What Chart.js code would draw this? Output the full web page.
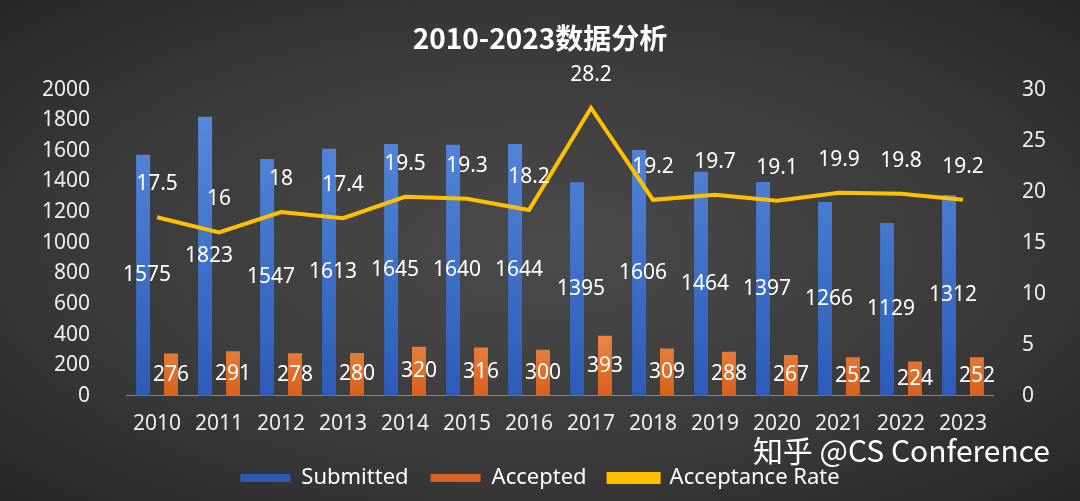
<!DOCTYPE html>
<html><head><meta charset="utf-8">
<script src="https://cdn.jsdelivr.net/npm/chart.js@4"></script>
<style>
html,body{margin:0;padding:0}
body{width:1080px;height:501px;background:radial-gradient(ellipse at center,#4a4a4a 0%,#3a3a3a 60%,#262626 100%);position:relative;overflow:hidden;font-family:"Noto Sans CJK SC","Noto Sans",sans-serif}
#wrap{position:absolute;left:0;top:0;width:1080px;height:501px}
#wm{position:absolute;right:30px;bottom:30px;color:#fff;font-size:30px;font-family:"Noto Sans CJK SC",sans-serif}
</style></head>
<body>
<div id="wrap"><canvas id="myChart"></canvas></div>
<div id="wm">知乎 @CS Conference</div>
<script>
const years = ["2010","2011","2012","2013","2014","2015","2016","2017","2018","2019","2020","2021","2022","2023"];
const submitted = [1575,1823,1547,1613,1645,1640,1644,1395,1606,1464,1397,1266,1129,1312];
const accepted = [276,291,278,280,320,316,300,393,309,288,267,252,224,252];
const rate = [17.5,16,18,17.4,19.5,19.3,18.2,28.2,19.2,19.7,19.1,19.9,19.8,19.2];

// simple inline data labels
const labelPlugin = {
  id: "labels",
  afterDatasetsDraw(chart) {
    const ctx = chart.ctx;
    ctx.save();
    ctx.font = "21px 'Noto Sans', sans-serif";
    ctx.fillStyle = "#fff";
    ctx.textAlign = "center";
    ctx.textBaseline = "middle";
    chart.data.datasets.forEach((ds, i) => {
      const meta = chart.getDatasetMeta(i);
      meta.data.forEach((el, j) => {
        const v = ds.data[j];
        if (ds.type === "line") {
          ctx.fillText(v, el.x, el.y - 33);
        } else {
          ctx.fillText(v, el.x + (i === 1 ? 4 : 0), (el.y + el.base) / 2);
        }
      });
    });
    ctx.restore();
  }
};

const c = document.getElementById("myChart").getContext("2d");
const blueGrad = c.createLinearGradient(0, 80, 0, 393);
blueGrad.addColorStop(0, "#5b8fe0");
blueGrad.addColorStop(1, "#2c5cb8");
const orangeGrad = c.createLinearGradient(0, 300, 0, 393);
orangeGrad.addColorStop(0, "#f79a5a");
orangeGrad.addColorStop(1, "#d8621e");

Chart.defaults.color = "#ddd";
Chart.defaults.font.family = "'Noto Sans', sans-serif";

new Chart("myChart", {
  data: {
    labels: years,
    datasets: [
      { type: "line", label: "Acceptance Rate", data: rate, yAxisID: "y1", borderColor: "#FFC000", backgroundColor: "#FFC000", borderWidth: 4, pointRadius: 0, tension: 0, order: 0 },
      { type: "bar", label: "Submitted", data: submitted, backgroundColor: blueGrad, yAxisID: "y", order: 1, barPercentage: 0.5, categoryPercentage: 0.9 },
      { type: "bar", label: "Accepted", data: accepted, backgroundColor: orangeGrad, yAxisID: "y", order: 1, barPercentage: 0.5, categoryPercentage: 0.9 }
    ]
  },
  options: {
    responsive: true,
    maintainAspectRatio: false,
    animation: false,
    layout: { padding: { left: 14, right: 14, top: 4, bottom: 2 } },
    plugins: {
      title: { display: true, text: "2010-2023数据分析", color: "#fff", font: { size: 28, weight: "bold", family: "'Noto Sans CJK SC', sans-serif" }, padding: { top: 18, bottom: 34 } },
      legend: {
        position: "bottom",
        labels: {
          color: "#fff", font: { size: 22 }, boxWidth: 50, boxHeight: 8, padding: 22,
          sort: (a, b) => (a.datasetIndex === 0 ? 1 : 0) - (b.datasetIndex === 0 ? 1 : 0)
        }
      },
      tooltip: { enabled: false }
    },
    scales: {
      x: { grid: { display: false }, border: { color: "#888" }, ticks: { color: "#eee", font: { size: 21 }, padding: 8 } },
      y: { min: 0, max: 2000, ticks: { stepSize: 200, color: "#eee", font: { size: 21 }, padding: 28, callback: v => v }, grid: { display: false }, border: { display: false } },
      y1: { position: "right", min: 0, max: 30, ticks: { stepSize: 5, color: "#eee", font: { size: 21 }, padding: 20 }, grid: { display: false }, border: { display: false } }
    }
  },
  plugins: [labelPlugin]
});
</script>
</body></html>
